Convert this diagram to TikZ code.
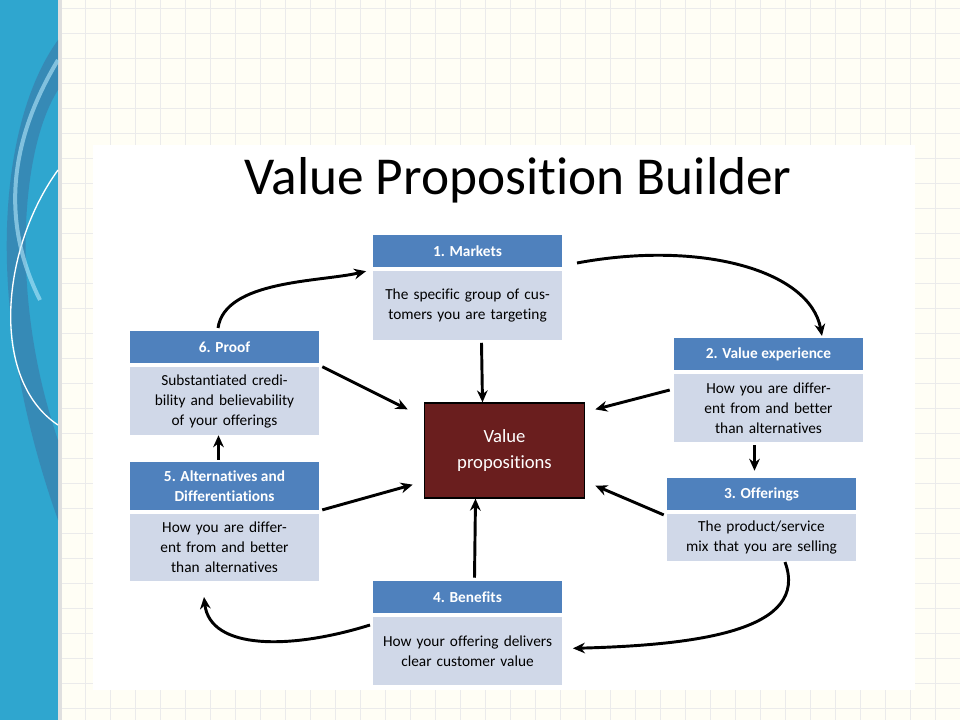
\documentclass[tikz,border=0pt]{standalone}
\usepackage{fontspec}
\setmainfont[Ligatures=NoCommon]{Carlito}
\usetikzlibrary{arrows.meta}
\definecolor{headblue}{HTML}{4F81BD}
\definecolor{bodyblue}{HTML}{D0D8E8}
\definecolor{coreRed}{HTML}{6A1E1E}
\definecolor{bandblue}{HTML}{2FA6CF}
\begin{document}
\begin{tikzpicture}[x=0.75pt,y=-0.75pt,>={Stealth[length=9pt,width=8pt]}]

\tikzset{%
head box/.style={
fill=headblue,
text=white,
font=\bfseries\fontsize{11.5}{14}\selectfont,
minimum width=141.75pt,
minimum height=24pt,
align=center,
inner sep=0pt
},
body box/.style={
fill=bodyblue,
font=\fontsize{11.5}{15}\selectfont,
text width=128pt,
minimum width=141.75pt,
align=center,
inner sep=0pt
},
flow/.style={
->,
line width=2.2pt
},
}

% Background, grid and side band
\useasboundingbox (0,0) rectangle (960,720);
\fill[white!96!yellow] (0,0) rectangle (960,720);
\foreach \g in {0,25,...,950}
\draw[black!8] (\g+10,0) -- (\g+10,720);
\foreach \g in {0,25,...,700}
\draw[black!8] (0,\g+8) -- (960,\g+8);
\fill[white] (93,145) rectangle (915,690);
\fill[bandblue] (0,0) rectangle (58,720);
\fill[black!12] (58,0) rectangle (62,720);
\fill[cyan!60!blue!70!black,opacity=0.5] (58,40) .. controls (0,120) and (-20,300) .. (58,520) -- (58,440) .. controls (10,300) and (20,150) .. (58,90) -- cycle;
\draw[white,line width=1pt] (58,170) .. controls (0,250) and (-10,380) .. (58,425);
\draw[white!70!cyan,line width=3pt,opacity=0.6] (58,60) .. controls (10,140) and (0,220) .. (40,300);

% Title
\node (title) at (518,180) {\fontsize{40}{46}\selectfont Value Proposition Builder};

% Centre
\node [draw=black,line width=1.2pt,fill=coreRed,text=white,minimum width=120pt,minimum height=71pt,align=center,font=\fontsize{14}{20}\selectfont] (core) at (504.5,450.5) {Value\\propositions};

% Step boxes
\node [head box] (markets-h) at (467.5,251) {1. Markets};
\node [body box,minimum height=51pt] (markets-b) at (467.5,305.5) {The specific group of customers you are targeting};
\node [head box] (experience-h) at (768.5,354) {2. Value experience};
\node [body box,minimum height=51pt] (experience-b) at (768.5,408) {How you are different from and better than alternatives};
\node [head box] (offerings-h) at (761.5,494) {3. Offerings};
\node [body box,minimum height=35pt] (offerings-b) at (761.5,537.5) {The product/service mix that you are selling};
\node [head box] (benefits-h) at (467.5,597) {4. Benefits};
\node [body box,minimum height=51pt] (benefits-b) at (467.5,651) {How your offering delivers clear customer value};
\node [head box,minimum height=36pt,font=\bfseries\fontsize{11.5}{15}\selectfont] (alternatives-h) at (224.5,486) {5. Alternatives and\\Differentiations};
\node [body box,minimum height=50pt] (alternatives-b) at (224.5,547.5) {How you are different from and better than alternatives};
\node [head box] (proof-h) at (224.5,347) {6. Proof};
\node [body box,minimum height=51pt] (proof-b) at (224.5,401) {Substantiated credibility and believability of your offerings};

% Arrows into the centre
\draw [flow] ([shift={(14,3)}]markets-b.south) -- ([shift={(-22,0)}]core.north);
\draw [flow] ([shift={(3,0)}]proof-b.north east) -- ([shift={(-16,7)}]core.north west);
\draw [flow] ([shift={(3,-4)}]alternatives-b.north east) -- ([shift={(-11,-14)}]core.south west);
\draw [flow] ([shift={(7,-3)}]benefits-h.north) -- ([shift={(-29,0)}]core.south);
\draw [flow] ([shift={(-4,-18)}]experience-b.west) -- ([shift={(10,7)}]core.north east);
\draw [flow] ([shift={(-3,1)}]offerings-b.north west) -- ([shift={(10,-13)}]core.south east);

% Arrows between steps
\draw [flow] ([shift={(-14,3)}]experience-b.south) -- ([shift={(-7,-7)}]offerings-h.north);
\draw [flow] ([shift={(-6,-2)}]alternatives-h.north) -- ([shift={(-6,0)}]proof-b.south);

% Curved arrows around the cycle
\draw [flow] (218,328) .. controls (225,280) and (320,282) .. ([xshift=-5pt]markets-b.north west);
\draw [flow] (577,263) .. controls (700,240) and (810,270) .. (822,336);
\draw [flow] (785,562) .. controls (810,630) and (700,645) .. ([xshift=8pt,yshift=2pt]benefits-b.east);
\draw [flow] (370,625) .. controls (290,650) and (210,650) .. (204,597);

\end{tikzpicture}
\end{document}
